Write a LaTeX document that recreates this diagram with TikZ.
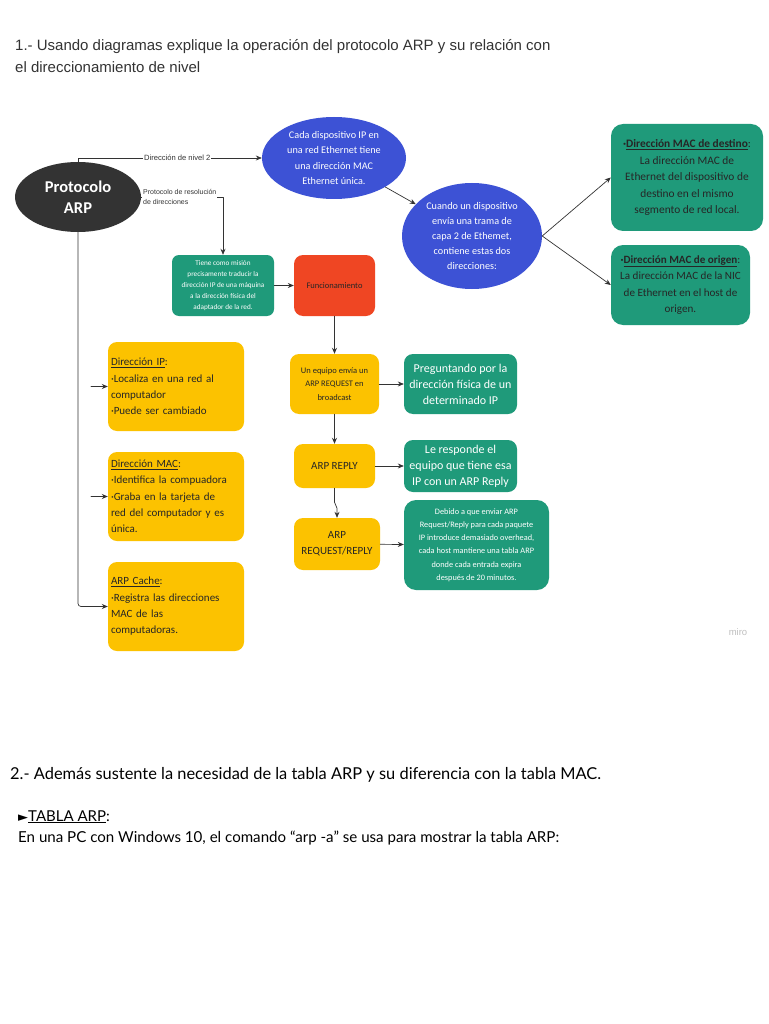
\documentclass[tikz,border=0pt]{standalone}
\usepackage{fontspec}
\setmainfont{Carlito}
\newfontfamily\titlefont{Liberation Sans}
\newfontfamily\latofont{Lato}
\newfontfamily\symfont{DejaVu Sans}
\usetikzlibrary{shapes.geometric,arrows.meta}
\definecolor{arpgray}{HTML}{333333}
\definecolor{arpblue}{HTML}{3D52D5}
\definecolor{arpteal}{HTML}{1F9A7A}
\definecolor{arpred}{HTML}{EF4623}
\definecolor{arpyellow}{HTML}{FCC200}
\newcommand{\fsz}[2]{\fontsize{#1}{#2}\selectfont}
\tikzset{
  arpell/.style={ellipse,fill=arpgray,text=white,inner sep=0pt,align=center,font=\bfseries\fsz{16.5}{21}},
  blueell/.style={ellipse,fill=arpblue,text=white,inner sep=0pt,align=center,font=\fsz{10.2}{15}},
  tealbox/.style={rectangle,rounded corners=12pt,fill=arpteal,inner sep=2pt,align=center,text=black!85,font=\fsz{11.4}{16.5}},
  ylwbox/.style={rectangle,rounded corners=9pt,fill=arpyellow,inner sep=2pt,align=center,text=black!85},
  sidebox/.style={ylwbox,align=left,text width=130pt,inner sep=3pt,minimum height=89pt,font=\fsz{11}{16.3}},
  redbox/.style={rectangle,rounded corners=9pt,fill=arpred,inner sep=2pt,text=black!85,font=\fsz{8.5}{10}},
  lbl/.style={fill=white,inner sep=1pt,text=black!80,font=\titlefont\fsz{7.6}{10.5}},
  conn/.style={->,draw=arpgray,line width=.7pt},
  ttl/.style={anchor=base west,inner sep=0pt}
}
\begin{document}
\begin{tikzpicture}[x=1pt,y=-1pt,>={Stealth[length=6pt,width=5pt]},line join=round,line cap=round]
	\fill[white] (0,0) rectangle (768,1024);
	\useasboundingbox (0,0) rectangle (768,1024);
	% pregunta 1
	\node[ttl,text=black!80,font=\titlefont\fsz{15}{18}] (q1a) at (15,51) {1.- Usando diagramas explique la operación del protocolo ARP y su relación con};
	\node[ttl,text=black!80,font=\titlefont\fsz{15}{18}] (q1b) at (15,73) {el direccionamiento de nivel};
	% diagrama
	\node[arpell,minimum width=126pt,minimum height=70pt] (arp) at (78,197) {Protocolo\\ARP};
	\node[blueell,minimum width=144pt,minimum height=82pt] (ipmac) at (334,158) {Cada dispositivo IP en\\una red Ethernet tiene\\una dirección MAC\\Ethernet única.};
	\node[blueell,minimum width=140pt,minimum height=106pt] (trama) at (472,236) {Cuando un dispositivo\\envía una trama de\\capa 2 de Ethemet,\\contiene estas dos\\direcciones:};
	\node[tealbox,minimum width=152pt,minimum height=107pt] (dest) at (687,177.5) {\textbf{·\underline{Dirección MAC de destino}}:\\La dirección MAC de\\Ethernet del dispositivo de\\destino en el mismo\\segmento de red local.};
	\node[tealbox,minimum width=139pt,minimum height=80pt,font=\fsz{11.1}{16.5}] (orig) at (680.5,285) {\textbf{·\underline{Dirección MAC de origen}}:\\La dirección MAC de la NIC\\de Ethernet en el host de\\origen.};
	\node[tealbox,rounded corners=7pt,minimum width=102pt,minimum height=61pt,text=white,font=\fsz{7.2}{11}] (mision) at (223,285.5) {Tiene como misión\\precisamente traducir la\\dirección IP de una máquina\\a la dirección física del\\adaptador de la red.};
	\node[redbox,minimum width=81pt,minimum height=61pt] (func) at (334.5,285.5) {Funcionamiento};
	\node[ylwbox,minimum width=89pt,minimum height=60pt,font=\fsz{8.5}{13.5}] (request) at (334.5,384) {Un equipo envía un\\ARP REQUEST en\\broadcast};
	\node[tealbox,rounded corners=9pt,minimum width=113pt,minimum height=60pt,text=white,font=\fsz{12}{16}] (pregunta) at (460.5,384) {Preguntando por la\\dirección física de un\\determinado IP};
	\node[ylwbox,minimum width=81pt,minimum height=44pt,font=\fsz{11}{15}] (reply) at (334.5,466) {ARP REPLY};
	\node[tealbox,rounded corners=9pt,minimum width=113pt,minimum height=52pt,text=white,font=\fsz{12}{16}] (responde) at (460.5,466) {Le responde el\\equipo que tiene esa\\IP con un ARP Reply};
	\node[ylwbox,minimum width=86pt,minimum height=52pt,font=\fsz{11}{16}] (reqrep) at (337,544) {ARP\\REQUEST/REPLY};
	\node[tealbox,minimum width=145pt,minimum height=90pt,text=white,font=\fsz{8.3}{13.2}] (debido) at (476.5,545) {Debido a que enviar ARP\\Request/Reply para cada paquete\\IP introduce demasiado overhead,\\cada host mantiene una tabla ARP\\donde cada entrada expira\\después de 20 minutos.};
	\node[sidebox] (ipbox) at (176,386.5) {\underline{Dirección IP}:\\·Localiza en una red al\\computador\\·Puede ser cambiado};
	\node[sidebox] (macbox) at (176,496.5) {\underline{Dirección MAC}:\\·Identifica la compuadora\\·Graba en la tarjeta de\\red del computador y es\\única.};
	\node[sidebox] (cache) at (176,606.5) {\underline{ARP Cache}:\\·Registra las direcciones\\MAC de las\\computadoras.};
	\node[text=black!25,font=\titlefont\fsz{9.5}{11}] (miro) at (738,632) {miro};
	% conectores
	\draw[conn] (arp.north) |- node[lbl,pos=.77]{Dirección de nivel 2} (ipmac.west);
	\draw[conn] (arp.east) -| (mision.north);
	\node[lbl,align=left,anchor=west,font=\titlefont\fsz{7}{10.5}] (resol) at (142,197) {Protocolo de resolución\\de direcciones};
	\draw[conn] (ipmac) -- (trama);
	\draw[conn] (trama.east) -- (dest.west);
	\draw[conn] (trama.east) -- (orig.west);
	\draw[conn] (mision) -- (func);
	\draw[conn] (func) -- (request);
	\draw[conn] (request) -- (pregunta);
	\draw[conn] (request) -- (reply);
	\draw[conn] (reply) -- (responde);
	\draw[conn] (reply.south) -- ++(0,14) -- ++(2.5,6) -- (reqrep.north);
	\draw[conn] (reqrep) -- (debido);
	\coordinate (ipstub) at (91,386.5);
	\coordinate (macstub) at (91,496.5);
	\draw[conn] (ipstub) -- (ipbox.west);
	\draw[conn] (macstub) -- (macbox.west);
	\draw[conn,rounded corners=3pt] (arp.south) |- (cache.west);
	% pregunta 2
	\node[ttl,font=\latofont\fsz{16.4}{20}] (q2) at (10,779) {2.- Además sustente la necesidad de la tabla ARP y su diferencia con la tabla MAC.};
	\node[ttl,font=\latofont\fsz{15}{18}] (tabla) at (18,821) {{\symfont\fsz{13}{18}►}\underline{TABLA ARP}:};
	\node[ttl,font=\latofont\fsz{15.1}{18}] (cmd) at (18,842) {En una PC con Windows 10, el comando “arp -a” se usa para mostrar la tabla ARP:};
\end{tikzpicture}
\end{document}
